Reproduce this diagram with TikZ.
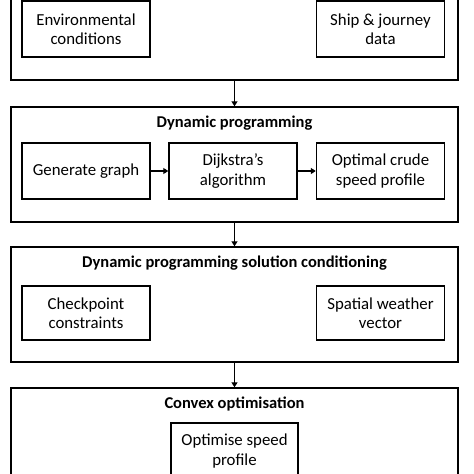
\documentclass[tikz,border=0pt]{standalone}
\usepackage{fontspec}
\setmainfont{Carlito}
\usetikzlibrary{arrows.meta}
\begin{document}
\begin{tikzpicture}[x=1pt,y=-1pt,
  outerbox/.style={draw=black,line width=1.4pt,minimum width=447pt,inner sep=0pt},
  innerbox/.style={draw=black,line width=1.4pt,minimum width=128pt,minimum height=56pt,inner sep=0pt,align=center,font=\fontsize{16.8}{19.5}\selectfont,text=black},
  titletext/.style={font=\bfseries\fontsize{16.5}{19}\selectfont,inner sep=0pt},
  conn/.style={line width=1.2pt,-{Triangle[length=5pt,width=6pt]}}]
\useasboundingbox (0,0) rectangle (474,474);
\clip (0,0) rectangle (474,474);
\fill[white] (0,0) rectangle (474,474);
% box 1
\node[outerbox,minimum height=105pt] (o1) at (234.5,27.5) {};
\node[innerbox] (env) at (86,29) {Environmental\\conditions};
\node[innerbox] (ship) at (380.5,29) {Ship \& journey\\data};
% box 2
\node[outerbox,minimum height=115pt] (o2) at (234.5,164.5) {};
\node[titletext] (t2) at (234.5,123) {Dynamic programming};
\node[innerbox] (gen) at (86,171) {Generate graph};
\node[innerbox] (dij) at (233,171) {Dijkstra’s\\algorithm};
\node[innerbox] (opt) at (380.5,171) {Optimal crude\\speed profile};
% box 3
\node[outerbox,minimum height=115pt] (o3) at (234.5,304.5) {};
\node[titletext] (t3) at (234.5,263) {Dynamic programming solution conditioning};
\node[innerbox,minimum height=54pt] (chk) at (86,313) {Checkpoint\\constraints};
\node[innerbox,minimum height=54pt] (spa) at (380.5,313) {Spatial weather\\vector};
% box 4
\node[outerbox,minimum height=132pt] (o4) at (234.5,454) {};
\node[titletext] (t4) at (234.5,404) {Convex optimisation};
\node[innerbox,minimum width=127pt] (cvx) at (234.5,451) {Optimise speed\\profile};
% connectors
\draw[conn] (o1.south) -- (o2.north);
\draw[conn] (o2.south) -- (o3.north);
\draw[conn] (o3.south) -- (o4.north);
\draw[conn] (gen) -- (dij);
\draw[conn] (dij) -- (opt);
\end{tikzpicture}
\end{document}
